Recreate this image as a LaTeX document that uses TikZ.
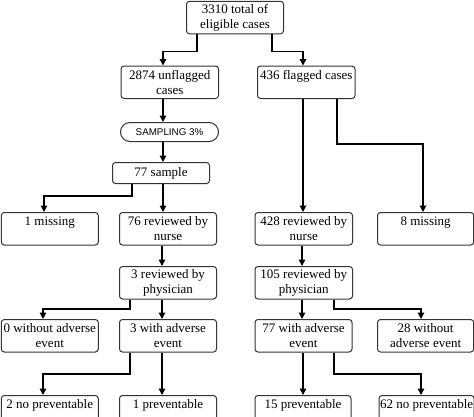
\documentclass[tikz,border=0pt]{standalone}
\usepackage{fontspec}
\setmainfont{Liberation Serif}
\setsansfont{Liberation Sans}
\usetikzlibrary{arrows.meta}

\begin{document}
\begin{tikzpicture}[
    x=1pt, y=1pt,
    >={Triangle[length=6.5pt, width=6.5pt]},
    box style/.style={draw=black!80, line width=1pt, rounded corners=3pt, anchor=north west, align=center, inner sep=1pt, minimum width=97pt, minimum height=32.5pt, font=\fontsize{13}{15}\selectfont},
    oval style/.style={draw=black!80, line width=1pt, rounded corners=9.5pt, anchor=north west, inner sep=1pt, minimum width=98pt, minimum height=19pt, font=\sffamily\fontsize{9.8}{11}\selectfont},
    path style/.style={line width=1.3pt, black, ->}
]

\useasboundingbox (0,0) rectangle (474,-416);

% Draw the boxes
\node[box style] (total) at (186,-0.8) {3310 total of\\eligible cases};
\node[box style, minimum width=97.5pt] (unflagged) at (120.5,-65.5) {2874 unflagged\\cases};
\node[box style, minimum width=97.5pt] (flagged) at (257,-65.5) {436 flagged cases\\\mbox{}};
\node[oval style] (sampling) at (120,-122) {SAMPLING 3\%};
\node[box style, minimum height=21pt] (sample) at (112,-162) {77 sample};

\node[box style] (missA) at (0.8,-212) {1 missing\\\mbox{}};
\node[box style] (nurseA) at (119,-212) {76 reviewed by\\nurse};
\node[box style, minimum width=97.5pt] (nurseB) at (254.5,-212) {428 reviewed by\\nurse};
\node[box style, minimum width=96.2pt] (missB) at (377,-212) {8 missing\\\mbox{}};

\node[box style] (physA) at (119,-266) {3 reviewed by\\physician};
\node[box style, minimum width=97.5pt] (physB) at (254.5,-266) {105 reviewed by\\physician};

\node[box style] (withoutA) at (0.8,-319) {0 without adverse\\event};
\node[box style] (withA) at (119,-319) {3 with adverse\\event};
\node[box style] (withB) at (254.5,-319) {77 with adverse\\event};
\node[box style, minimum width=96.2pt] (withoutB) at (377,-319) {28 without\\adverse event};

\node[box style] (noprevA) at (0.8,-395) {2 no preventable\\\mbox{}};
\node[box style] (prevA) at (119,-395) {1 preventable\\\mbox{}};
\node[box style, minimum width=96pt] (prevB) at (254.5,-395) {15 preventable\\\mbox{}};
\node[box style, minimum width=94.7pt] (noprevB) at (378.5,-395) {62 no preventable\\\mbox{}};

% Draw the straight arrows
\foreach \a/\b/\x in {unflagged/sampling/163, sampling/sample/163, sample/nurseA/163, flagged/nurseB/303, nurseA/physA/162, nurseB/physB/302, physA/withA/162, physB/withB/302, withA/prevA/162, withB/prevB/303} {
    \draw[path style] (\a.south -| \x,0) -- (\b.north -| \x,0);
}

% Draw the bent arrows
\foreach \a/\b/\x/\d/\y in {total/unflagged/197/17/163, total/flagged/272/17/303, sample/missA/132/12/44, flagged/missB/337/45/423, physA/withoutA/130/9.5/43, physB/withoutB/334/9.5/421, withA/noprevA/130/21.5/43, withB/noprevB/334/21.5/421} {
    \draw[path style] (\a.south -| \x,0) -- ++(0,-\d) -| (\b.north -| \y,0);
}
\end{tikzpicture}
\end{document}
